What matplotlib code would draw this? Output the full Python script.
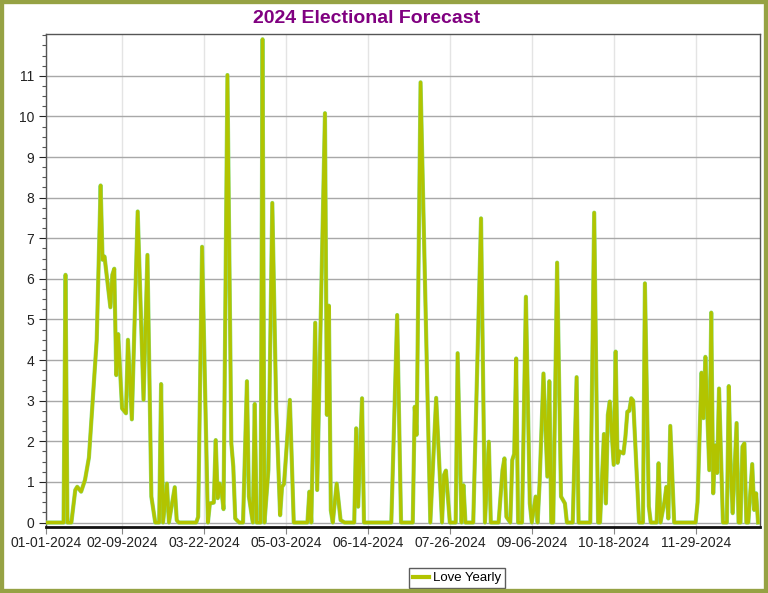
import numpy as np
import pandas as pd
import matplotlib
matplotlib.use('Agg')
import matplotlib.pyplot as plt
import matplotlib.dates as mdates
from matplotlib.ticker import MultipleLocator
from matplotlib.patches import Rectangle

plt.rcParams['font.family'] = ['Liberation Sans', 'DejaVu Sans']

#Chart data (day of year offset from 01-01-2024, value)
day_offset = [0, 9, 10, 11, 13, 15, 16, 18, 20, 22, 26, 28, 29, 30, 33, 34, 35, 36, 37, 39,
              41, 42, 44, 47, 50, 52, 54, 56, 58, 59, 60, 62, 63, 66, 67, 68, 77, 78, 80, 83,
              84, 86, 87, 88, 89, 90, 91, 93, 95, 96, 97, 99, 101, 103, 104, 106, 107, 108, 110, 111,
              112, 114, 116, 118, 120, 121, 122, 123, 125, 127, 134, 135, 136, 138, 139, 143, 144, 145, 146, 147,
              149, 151, 153, 158, 159, 160, 162, 163, 177, 180, 182, 188, 189, 190, 192, 197, 200, 203, 204, 205,
              207, 210, 211, 213, 214, 215, 219, 223, 225, 227, 228, 232, 234, 235, 236, 238, 239, 240, 241, 242,
              244, 246, 248, 249, 251, 252, 253, 255, 257, 258, 259, 260, 262, 264, 266, 267, 270, 272, 273, 279,
              281, 283, 284, 286, 287, 288, 289, 291, 292, 293, 294, 296, 297, 298, 299, 300, 301, 304, 306, 307,
              309, 310, 313, 314, 315, 317, 318, 319, 320, 322, 333, 334, 336, 337, 338, 340, 341, 342, 343, 344,
              345, 347, 349, 350, 351, 352, 354, 355, 356, 357, 358, 359, 360, 362, 363, 364, 365]
love_yearly = [0, 0, 6.1, 0, 0, 0.8, 0.88, 0.76, 1.05, 1.6, 4.5, 8.3, 6.47, 6.55, 5.3, 6.1, 6.25, 3.63, 4.64, 2.81,
               2.69, 4.5, 2.54, 7.66, 3.02, 6.59, 0.64, 0, 0, 3.41, 0, 0.96, 0, 0.87, 0.06, 0, 0, 0.14, 6.79, 0,
               0.47, 0.49, 2.03, 0.6, 0.96, 0.76, 0.33, 11.02, 1.95, 1.38, 0.1, 0, 0, 3.48, 0.64, 0, 2.92, 0, 0, 11.9,
               0, 1.3, 7.87, 2.85, 0.18, 0.88, 0.95, 1.62, 3.02, 0, 0, 0.76, 0, 4.92, 0.8, 10.08, 2.65, 5.34, 0.3, 0,
               0.96, 0.06, 0, 0, 2.32, 0.39, 3.06, 0, 0, 5.11, 0, 0, 2.85, 2.16, 10.84, 0, 3.07, 0, 1.17, 1.28,
               0, 0, 4.17, 0, 0.92, 0, 0, 7.49, 0, 1.99, 0, 0, 1.29, 1.58, 0.14, 0, 1.54, 1.69, 4.04, 0,
               0, 5.56, 0.47, 0, 0.64, 0, 0.96, 3.67, 1.13, 3.48, 0, 0, 6.4, 0.64, 0.47, 0, 0, 3.58, 0, 0,
               7.63, 0, 0, 2.18, 0.47, 2.65, 2.98, 1.42, 4.21, 1.47, 1.75, 1.7, 2.11, 2.73, 2.75, 3.06, 3.0, 0, 0, 5.89,
               0.4, 0, 0, 1.46, 0, 0.51, 0.88, 0.1, 2.38, 0, 0, 0.5, 3.69, 2.57, 4.08, 1.29, 5.17, 0.72, 1.9, 1.22,
               3.3, 0, 0, 3.36, 1.29, 0.23, 2.45, 0, 0, 1.87, 1.95, 0, 0, 1.44, 0.31, 0.72, 0]
tick_dates = ['2024-01-01', '2024-02-09', '2024-03-22', '2024-05-03', '2024-06-14',
              '2024-07-26', '2024-09-06', '2024-10-18', '2024-11-29']

start = pd.Timestamp('2024-01-01')
dates = start + pd.to_timedelta(day_offset, unit='D')
ticks = pd.to_datetime(tick_dates)

fig = plt.figure(figsize=(7.68, 5.93), dpi=100)
ax = fig.add_axes([0.0599, 0.1113, 0.9297, 0.8314])

#Grid lines
ax.set_axisbelow(True)
ax.grid(axis='y', which='major', color='#a8a8a8', linewidth=1.0)
ax.grid(axis='x', which='major', color='#e4e4e4', linewidth=1.0)

#Series: light green halo under the yellow-green line
ax.plot(dates, love_yearly, color='#8fdc7a', linewidth=3.0, solid_joinstyle='round', zorder=3)
ax.plot(dates, love_yearly, color='#b2c400', linewidth=2.3, solid_joinstyle='round', zorder=4,
        label='Love Yearly')

ax.set_xlim(start, pd.Timestamp('2025-01-01'))
ax.set_ylim(-0.11, 12.03)

ax.set_xticks(ticks)
ax.xaxis.set_major_formatter(mdates.DateFormatter('%m-%d-%Y'))
ax.yaxis.set_major_locator(MultipleLocator(1))
ax.yaxis.set_minor_locator(MultipleLocator(0.25))
ax.set_yticks(np.arange(0, 12))

ax.tick_params(axis='both', which='major', labelsize=10, colors='#222222', length=5, width=0.8)
ax.tick_params(axis='y', which='minor', length=3, width=0.8, color='#555555')
ax.tick_params(axis='x', which='major', color='#888888', pad=1.5)

for side in ['top', 'right', 'left']:
    ax.spines[side].set_color('#555555')
    ax.spines[side].set_linewidth(1.0)
ax.spines['bottom'].set_color('#111111')
ax.spines['bottom'].set_linewidth(2.0)

#Title
fig.text(0.477, 0.968, '2024 Electional Forecast', ha='center', va='center',
         fontsize=14, fontweight='bold', color='#800080')

#Legend
leg = fig.legend(loc='center', bbox_to_anchor=(0.595, 0.025), fontsize=9.5, frameon=True,
                 fancybox=False, handlelength=1.2, handletextpad=0.3, borderpad=0.3,
                 borderaxespad=0)
leg.get_frame().set_edgecolor('#333333')
leg.get_frame().set_linewidth(1.0)
for line in leg.get_lines():
    line.set_linewidth(3)

#Outer border
fig.patches.append(Rectangle((0, 0), 1, 1, transform=fig.transFigure, fill=False,
                             edgecolor='#96a244', linewidth=6, zorder=10))

fig.savefig('out.png', dpi=100)
